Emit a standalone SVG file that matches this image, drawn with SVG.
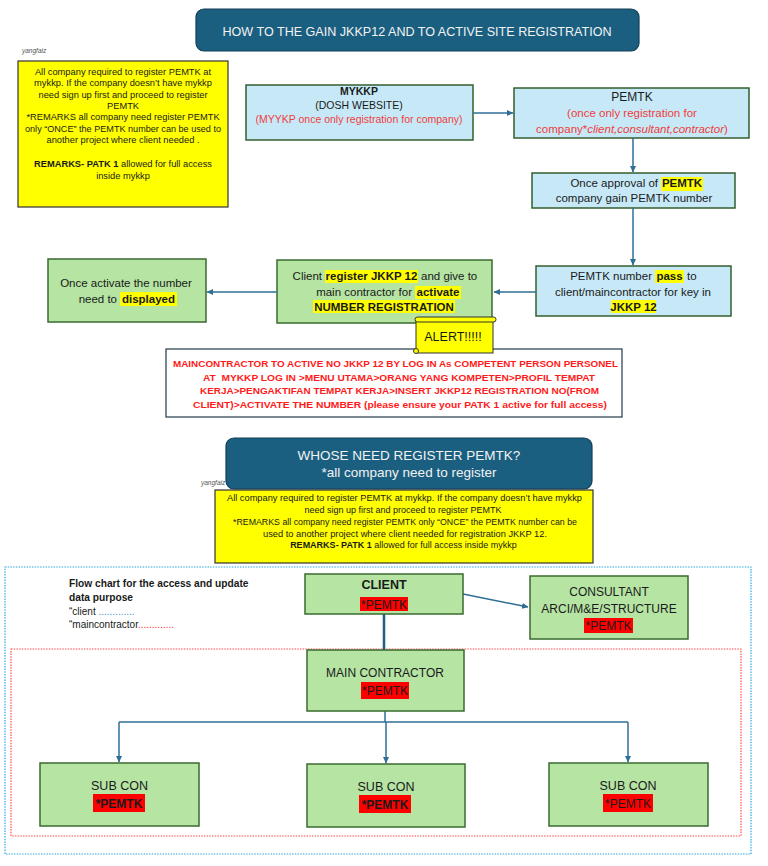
<svg xmlns="http://www.w3.org/2000/svg" width="768" height="866" viewBox="0 0 768 866">
<defs>
<style>
text{font-family:"Liberation Sans",Arial,sans-serif;fill:#1a1a1a}
.t{text-anchor:middle}
.b{font-weight:bold}
.hdr{fill:#1b5f80;stroke:#123f56;stroke-width:1.2}
.hdrt{fill:#f2f2f2;text-anchor:middle;font-size:13.5px}
.yel{fill:#ffff00;stroke:#333;stroke-width:1.2}
.blue{fill:#c7e9f7;stroke:#355e2e;stroke-width:1.5}
.green{fill:#b5e4a3;stroke:#3b6a31;stroke-width:1.5}
.hl{fill:#ffff00}
.rhl{fill:#ff0000}
.red{fill:#f03c3c}
.al{fill:#ff1a1a;font-weight:bold;text-anchor:middle;font-size:9.5px}
.con{fill:none;stroke:#2f6f96;stroke-width:1.5}
.yf{font-size:6.5px;font-style:italic;fill:#555}
</style>
<marker id="ah" markerWidth="7" markerHeight="7" refX="6" refY="3.5" orient="auto" markerUnits="userSpaceOnUse">
<path d="M0,0.5 L6.5,3.5 L0,6.5 z" fill="#2f6f96"/>
</marker>
</defs>
<rect width="768" height="866" fill="#ffffff"/>

<g id="title">
<rect class="hdr" x="196" y="9" width="443" height="42" rx="8"/>
<text class="hdrt" x="417" y="36" textLength="389" lengthAdjust="spacingAndGlyphs">HOW TO THE GAIN JKKP12 AND TO ACTIVE SITE REGISTRATION</text>
</g>

<text class="yf" x="22" y="53">yangfaiz</text>

<g id="note1">
<rect class="yel" x="18" y="61" width="210" height="146"/>
<text class="t" x="123" y="74.5" font-size="9.3px">All company required to register PEMTK at</text>
<text class="t" x="123" y="86" font-size="9.3px">mykkp. If the company doesn’t have mykkp</text>
<text class="t" x="123" y="97.5" font-size="9.3px">need sign up first and proceed to register</text>
<text class="t" x="123" y="108.5" font-size="9.3px">PEMTK</text>
<text class="t" x="123" y="120" font-size="9.3px">*REMARKS all company need register PEMTK</text>
<text class="t" x="123" y="131.5" font-size="9.3px" textLength="196" lengthAdjust="spacingAndGlyphs">only “ONCE” the PEMTK number can be used to</text>
<text class="t" x="123" y="143" font-size="9.3px">another project where client needed .</text>
<text class="t" x="123" y="167" font-size="9.3px"><tspan class="b">REMARKS- PATK 1</tspan> allowed for full access</text>
<text class="t" x="123" y="178.5" font-size="9.3px">inside mykkp</text>
</g>

<g id="mykkp">
<rect class="blue" x="246" y="85" width="227" height="55"/>
<text class="t b" x="359" y="95" font-size="10.5px">MYKKP</text>
<text class="t" x="359" y="109" font-size="10.5px">(DOSH WEBSITE)</text>
<text class="t red" x="359" y="123" font-size="10.5px">(MYYKP once only registration for company)</text>
</g>

<g id="pemtk">
<rect class="blue" x="514" y="88" width="235" height="50"/>
<text class="t" x="632" y="101" font-size="12px">PEMTK</text>
<text class="t red" x="632" y="116.5" font-size="11.5px">(once only registration for</text>
<text class="t red" x="632" y="133" font-size="11.5px">company*<tspan font-style="italic">client,consultant,contractor</tspan>)</text>
</g>

<g id="approval">
<rect class="blue" x="532" y="173" width="203" height="35"/>
<rect class="hl" x="661" y="177" width="42" height="14"/>
<text x="658" y="186.5" font-size="11.5px" text-anchor="end">Once approval of</text>
<text class="t b" x="682" y="186.5" font-size="11.5px">PEMTK</text>
<text class="t" x="634" y="202" font-size="11.5px">company gain PEMTK number</text>
</g>

<g id="pemtk-number">
<rect class="blue" x="536" y="266" width="195" height="50"/>
<rect class="hl" x="655" y="270" width="29" height="13"/>
<text x="652" y="280" font-size="11.5px" text-anchor="end">PEMTK number</text>
<text class="t b" x="669.5" y="280" font-size="11.5px">pass</text>
<text x="687" y="280" font-size="11.5px">to</text>
<text class="t" x="633" y="296" font-size="11.5px">client/maincontractor for key in</text>
<rect class="hl" x="611" y="300" width="45" height="13"/>
<text class="t b" x="633.5" y="311" font-size="11.5px">JKKP 12</text>
</g>

<g id="client-register">
<rect class="green" x="277" y="260" width="215" height="63"/>
<rect class="hl" x="325" y="270" width="93" height="13"/>
<text x="322" y="280" font-size="11.5px" text-anchor="end">Client</text>
<text class="t b" x="371.5" y="280" font-size="11.5px">register JKKP 12</text>
<text x="421" y="280" font-size="11.5px">and give to</text>
<rect class="hl" x="415" y="286" width="46" height="13"/>
<text x="412" y="296" font-size="11.5px" text-anchor="end">main contractor for</text>
<text class="t b" x="438" y="296" font-size="11.5px">activate</text>
<rect class="hl" x="313" y="300" width="142" height="13"/>
<text class="t b" x="384" y="310.5" font-size="11.5px">NUMBER REGISTRATION</text>
</g>

<g id="displayed">
<rect class="green" x="48" y="259" width="158" height="63"/>
<text class="t" x="126" y="287" font-size="11.5px">Once activate the number</text>
<rect class="hl" x="120" y="292" width="57" height="14"/>
<text x="117" y="302.5" font-size="11.5px" text-anchor="end">need to</text>
<text class="t b" x="148.5" y="302.5" font-size="11.5px">displayed</text>
</g>

<g id="alert-text">
<rect x="166" y="349" width="456" height="68" fill="#fff" stroke="#22394a" stroke-width="1.2"/>
<text class="al" x="395.5" y="366.5" textLength="445" lengthAdjust="spacingAndGlyphs">MAINCONTRACTOR TO ACTIVE NO JKKP 12 BY LOG IN As COMPETENT PERSON PERSONEL</text>
<text class="al" x="399" y="380.5" textLength="392" lengthAdjust="spacingAndGlyphs" xml:space="preserve">AT  MYKKP LOG IN &gt;MENU UTAMA&gt;ORANG YANG KOMPETEN&gt;PROFIL TEMPAT</text>
<text class="al" x="399.5" y="394" textLength="399" lengthAdjust="spacingAndGlyphs">KERJA&gt;PENGAKTIFAN TEMPAT KERJA&gt;INSERT JKKP12 REGISTRATION NO(FROM</text>
<text class="al" x="400" y="407.5" textLength="414" lengthAdjust="spacingAndGlyphs">CLIENT)&gt;ACTIVATE THE NUMBER (please ensure your PATK 1 active for full access)</text>
</g>

<g id="alert">
<rect x="416" y="320" width="77" height="33" fill="#ffff00" stroke="#333" stroke-width="1"/>
<rect x="415" y="317" width="81" height="5" rx="2.5" fill="#ffff00" stroke="#333" stroke-width="1"/>
<circle cx="416" cy="351" r="2.5" fill="#ffff00" stroke="#333" stroke-width="1"/>
<text class="t" x="453" y="341" font-size="12.5px">ALERT!!!!!</text>
</g>

<g id="header2">
<rect class="hdr" x="226" y="438" width="366" height="51" rx="8"/>
<text class="hdrt" x="409" y="460">WHOSE NEED REGISTER PEMTK?</text>
<text class="hdrt" x="409" y="477">*all company need to register</text>
</g>

<text class="yf" x="201" y="485">yangfaiz</text>

<g id="note2">
<rect class="yel" x="215" y="490" width="378" height="73"/>
<text class="t" x="404.5" y="500.5" font-size="9px" textLength="355" lengthAdjust="spacingAndGlyphs">All company required to register PEMTK at mykkp. If the company doesn’t have mykkp</text>
<text class="t" x="403" y="512.5" font-size="9px">need sign up first and proceed to register PEMTK</text>
<text class="t" x="405" y="524.5" font-size="9px" textLength="344" lengthAdjust="spacingAndGlyphs">*REMARKS all company need register PEMTK only “ONCE” the PEMTK number can be</text>
<text class="t" x="405" y="536.5" font-size="9px" textLength="284" lengthAdjust="spacingAndGlyphs">used to another project where client needed for registration JKKP 12.</text>
<text class="t" x="403.5" y="548" font-size="9px"><tspan class="b">REMARKS- PATK 1</tspan> allowed for full access inside mykkp</text>
</g>

<g id="areas">
<rect x="5" y="567" width="746" height="287" fill="none" stroke="#29a8e0" stroke-width="1.2" stroke-dasharray="1.5 1.2"/>
<rect x="11" y="649" width="730" height="187" fill="none" stroke="#ff4d4d" stroke-width="1.2" stroke-dasharray="1.5 1.2"/>
</g>

<g id="legend">
<text class="b" x="69" y="587" font-size="10.2px">Flow chart for the access and update</text>
<text class="b" x="69" y="601" font-size="10.2px">data purpose</text>
<text x="69" y="614.5" font-size="10px">“client <tspan style="fill:#3a8fd0">.............</tspan></text>
<text x="69" y="628" font-size="10px">“maincontractor<tspan style="fill:#ff3030">.............</tspan></text>
</g>

<g id="connectors">
<line class="con" x1="473" y1="113" x2="513" y2="113" marker-end="url(#ah)"/>
<line class="con" x1="633" y1="138" x2="633" y2="172" marker-end="url(#ah)"/>
<line class="con" x1="633" y1="208" x2="633" y2="265" marker-end="url(#ah)"/>
<line class="con" x1="536" y1="292" x2="494" y2="292" marker-end="url(#ah)"/>
<line class="con" x1="277" y1="292" x2="207" y2="292" marker-end="url(#ah)"/>
<line class="con" x1="463" y1="594" x2="528" y2="607" marker-end="url(#ah)"/>
<line x1="384" y1="614" x2="384" y2="650" stroke="#1d5f82" stroke-width="2.5"/>
<path class="con" d="M385,711 V722"/>
<path class="con" d="M119,722 H628"/>
<line class="con" x1="119" y1="722" x2="119" y2="762" marker-end="url(#ah)"/>
<line class="con" x1="386" y1="722" x2="386" y2="763" marker-end="url(#ah)"/>
<line class="con" x1="628" y1="722" x2="628" y2="762" marker-end="url(#ah)"/>
</g>

<g id="client">
<rect class="green" x="305" y="574" width="158" height="40"/>
<text class="t b" x="384" y="589" font-size="12.5px">CLIENT</text>
<rect class="rhl" x="360" y="597" width="48" height="14"/>
<text class="t" x="384" y="608.5" font-size="12px">*PEMTK</text>
</g>

<g id="consultant">
<rect class="green" x="530" y="576" width="158" height="63"/>
<text class="t" x="609" y="595.5" font-size="12px">CONSULTANT</text>
<text class="t" x="609" y="612.5" font-size="12px">ARCI/M&amp;E/STRUCTURE</text>
<rect class="rhl" x="584" y="618" width="49" height="15"/>
<text class="t" x="608.5" y="630" font-size="12px">*PEMTK</text>
</g>

<g id="main-contractor">
<rect class="green" x="307" y="650" width="157" height="61"/>
<text class="t" x="385" y="676.5" font-size="12px">MAIN CONTRACTOR</text>
<rect class="rhl" x="361" y="682" width="48" height="17"/>
<text class="t" x="385" y="695" font-size="12px">*PEMTK</text>
</g>

<g id="subcon1">
<rect class="green" x="40" y="763" width="159" height="63"/>
<text class="t" x="119.5" y="790" font-size="12.5px">SUB CON</text>
<rect class="rhl" x="93" y="794" width="52" height="18"/>
<text class="t b" x="119" y="808" font-size="12px">*PEMTK</text>
</g>

<g id="subcon2">
<rect class="green" x="307" y="764" width="158" height="63"/>
<text class="t" x="386" y="791" font-size="12.5px">SUB CON</text>
<rect class="rhl" x="359" y="795" width="52" height="18"/>
<text class="t b" x="385" y="809" font-size="12px">*PEMTK</text>
</g>

<g id="subcon3">
<rect class="green" x="549" y="763" width="159" height="63"/>
<text class="t" x="628" y="790" font-size="12.5px">SUB CON</text>
<rect class="rhl" x="603" y="794" width="50" height="18"/>
<text class="t" x="628" y="808" font-size="12px">*PEMTK</text>
</g>
</svg>
